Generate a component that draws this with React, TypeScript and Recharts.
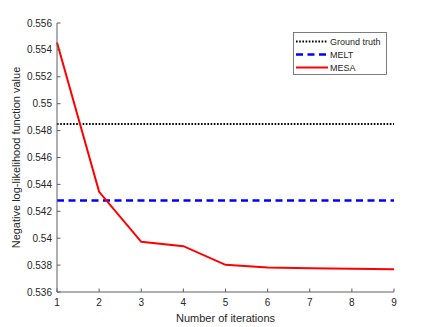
import { LineChart, Line, XAxis, YAxis, ReferenceLine, Legend } from 'recharts'

// iterations and objective values
const iterations = [1, 2, 3, 4, 5, 6, 7, 8, 9]
const mesaValues = [0.55455, 0.54345, 0.53973, 0.53941, 0.53802, 0.53782, 0.53776, 0.53773, 0.5377]
const groundTruth = 0.5485
const meltValue = 0.5428

const xTicks = [1, 2, 3, 4, 5, 6, 7, 8, 9]
const yTicks = [0.536, 0.538, 0.54, 0.542, 0.544, 0.546, 0.548, 0.55, 0.552, 0.554, 0.556]

const legendItems = [
  { name: 'Ground truth', color: '#000000', dash: '1.6 1.6', width: 2 },
  { name: 'MELT', color: '#0000ff', dash: '7 4.5', width: 2.5 },
  { name: 'MESA', color: '#ff0000', dash: undefined, width: 2 },
]

const data = iterations.map((it, i) => ({ it, mesa: mesaValues[i] }))

const FONT = '"Liberation Sans", Arial, Helvetica, sans-serif'
const TEXT = '#262626'
const AXIS = '#5e5e5e'
const TICK_LEN = 3.5
const X_MARGIN = 7
const Y_MARGIN = 5

const fmt = (v: number) => String(parseFloat(v.toFixed(3)))

function BottomTick({ x, y, payload }: any) {
  const y0 = y - X_MARGIN
  return (
    <g>
      <line x1={x} x2={x} y1={y0} y2={y0 - TICK_LEN} stroke={AXIS} />
      <text x={x} y={y} dy="0.71em" textAnchor="middle" fontSize={10} fill={TEXT} fontFamily={FONT}>
        {payload.value}
      </text>
    </g>
  )
}

function TopTick({ x, y }: any) {
  return <line x1={x} x2={x} y1={y} y2={y + TICK_LEN} stroke={AXIS} />
}

function LeftTick({ x, y, payload }: any) {
  const x0 = x + Y_MARGIN
  return (
    <g>
      <line x1={x0} x2={x0 + TICK_LEN} y1={y} y2={y} stroke={AXIS} />
      <text x={x} y={y} dy="0.355em" textAnchor="end" fontSize={10} fill={TEXT} fontFamily={FONT}>
        {fmt(payload.value)}
      </text>
    </g>
  )
}

function RightTick({ x, y }: any) {
  return <line x1={x} x2={x - TICK_LEN} y1={y} y2={y} stroke={AXIS} />
}

function renderLegend() {
  return (
    <svg width={94} height={43} style={{ display: 'block' }}>
      <rect x={0.5} y={0.5} width={93} height={42} fill="#fff" stroke={AXIS} strokeWidth={0.8} />
      {legendItems.map((item, i) => {
        const cy = 9.5 + i * 13
        return (
          <g key={item.name}>
            <line x1={3} x2={35} y1={cy} y2={cy} stroke={item.color} strokeWidth={item.width} strokeDasharray={item.dash} />
            <text x={37} y={cy} dy="0.355em" fontSize={9} fill={TEXT} fontFamily={FONT}>
              {item.name}
            </text>
          </g>
        )
      })}
    </svg>
  )
}

export default function App() {
  return (
    <div style={{ position: 'absolute', left: 0, top: 0, background: '#fff' }}>
      <LineChart width={436} height={327} data={data} margin={{ top: 23, right: 42, bottom: 0, left: 0 }}>
        <XAxis
          dataKey="it"
          type="number"
          domain={[1, 9]}
          ticks={xTicks}
          height={35}
          tickSize={0}
          tickMargin={X_MARGIN}
          tickLine={false}
          tick={<BottomTick />}
          axisLine={{ stroke: AXIS }}
          label={{
            content: ({ viewBox }: any) => (
              <text x={viewBox.x + viewBox.width / 2} y={viewBox.y + 26} dy="0.355em" textAnchor="middle" fontSize={11} fill={TEXT} fontFamily={FONT}>
                Number of iterations
              </text>
            ),
          }}
        />
        <XAxis
          xAxisId="top"
          orientation="top"
          dataKey="it"
          type="number"
          domain={[1, 9]}
          ticks={xTicks}
          height={0}
          tickSize={0}
          tickMargin={0}
          tickLine={false}
          tick={<TopTick />}
          axisLine={{ stroke: AXIS }}
        />
        <YAxis
          type="number"
          domain={[0.536, 0.556]}
          ticks={yTicks}
          width={57}
          tickSize={0}
          tickMargin={Y_MARGIN}
          tickLine={false}
          tick={<LeftTick />}
          axisLine={{ stroke: AXIS }}
          label={{
            content: ({ viewBox }: any) => {
              const cx = 16
              const cy = viewBox.y + viewBox.height / 2
              return (
                <text x={cx} y={cy} dy="0.355em" textAnchor="middle" transform={`rotate(-90 ${cx} ${cy})`} fontSize={11} fill={TEXT} fontFamily={FONT}>
                  Negative log-likelihood function value
                </text>
              )
            },
          }}
        />
        <YAxis
          yAxisId="right"
          orientation="right"
          type="number"
          domain={[0.536, 0.556]}
          ticks={yTicks}
          width={0}
          tickSize={0}
          tickMargin={0}
          tickLine={false}
          tick={<RightTick />}
          axisLine={{ stroke: AXIS }}
        />
        <ReferenceLine y={groundTruth} stroke="#000000" strokeWidth={2} strokeDasharray="1.6 1.6" />
        <ReferenceLine y={meltValue} stroke="#0000ff" strokeWidth={2.5} strokeDasharray="7 4.5" />
        <Line
          type="linear"
          dataKey="mesa"
          stroke="#ff0000"
          strokeWidth={2}
          dot={false}
          isAnimationActive={false}
        />
        <Legend
          layout="vertical"
          align="center"
          verticalAlign="middle"
          content={renderLegend}
          wrapperStyle={{ left: 293, top: 32, width: 94, height: 43 }}
        />
      </LineChart>
    </div>
  )
}
